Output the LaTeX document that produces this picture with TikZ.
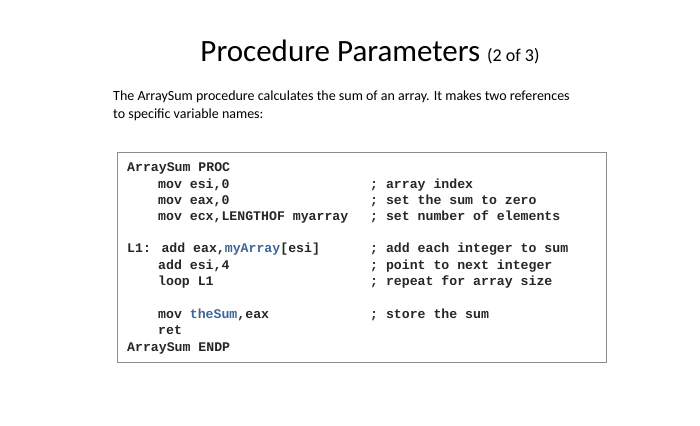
\documentclass[tikz,border=0pt]{standalone}
\usepackage{fontspec}
\setmainfont{Carlito}
\newfontfamily\codefont{Liberation Mono}
\definecolor{idblue}{HTML}{3D6596}
\begin{document}
\begin{tikzpicture}[x=1pt,y=-1pt,
  code/.style={anchor=base west,inner sep=0pt,font=\codefont\bfseries\fontsize{13.2}{15}\selectfont,text=black!85},
  para/.style={anchor=base west,inner sep=0pt,font=\fontsize{14}{16}\selectfont}]
\useasboundingbox (0,0) rectangle (700,425);
\node[anchor=base,inner sep=0pt] (title) at (370,62) {\fontsize{31}{34}\selectfont Procedure Parameters {\fontsize{18}{20}\selectfont (2 of 3)}};
\node[para] (p1) at (113,100) {The ArraySum procedure calculates the sum of an array. It makes two references};
\node[para] (p2) at (113,118) {to specific variable names:};
\draw[black!45,line width=1pt] (117,152) rectangle (606,362);
\node[code] (c1) at (127,171) {ArraySum PROC};
\node[code] (c2) at (158,188) {mov esi,0};
\node[code] (c3) at (158,204) {mov eax,0};
\node[code] (c4) at (158,220) {mov ecx,LENGTHOF myarray};
\node[code] (c5) at (127,252) {L1: add eax,\textcolor{idblue}{myArray}[esi]};
\node[code] (c6) at (158,269) {add esi,4};
\node[code] (c7) at (158,285) {loop L1};
\node[code] (c8) at (158,318) {mov \textcolor{idblue}{theSum},eax};
\node[code] (c9) at (158,334) {ret};
\node[code] (c10) at (127,351) {ArraySum ENDP};
\node[code] (k1) at (370,188) {; array index};
\node[code] (k2) at (370,204) {; set the sum to zero};
\node[code] (k3) at (370,220) {; set number of elements};
\node[code] (k4) at (370,252) {; add each integer to sum};
\node[code] (k5) at (370,269) {; point to next integer};
\node[code] (k6) at (370,285) {; repeat for array size};
\node[code] (k7) at (370,318) {; store the sum};
\end{tikzpicture}
\end{document}
